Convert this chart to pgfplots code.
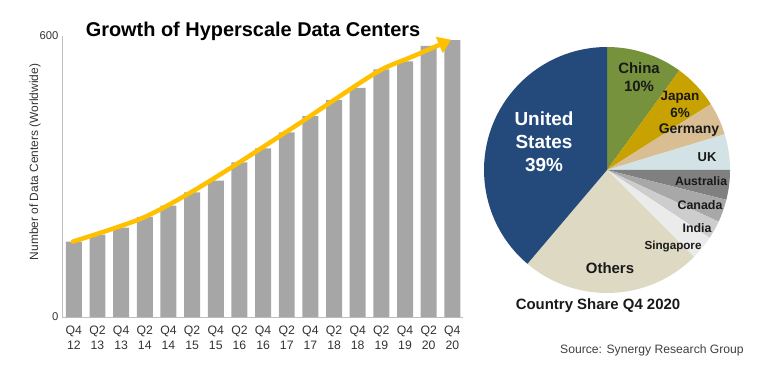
\documentclass[border=0pt]{standalone}
\usepackage{pgfplots}
\pgfplotsset{compat=1.18}
\usepackage{fontspec}
\setmainfont{Liberation Sans}
\usetikzlibrary{arrows.meta}
\definecolor{barc}{HTML}{A6A6A6}
\definecolor{arrc}{HTML}{FFC000}
\definecolor{usc}{HTML}{244A7C}
\definecolor{cnc}{HTML}{76923C}
\definecolor{jpc}{HTML}{C8A200}
\definecolor{dec}{HTML}{D8BE92}
\definecolor{ukc}{HTML}{D2E2E5}
\definecolor{auc}{HTML}{808080}
\definecolor{cac}{HTML}{A8A8A8}
\definecolor{inc}{HTML}{CDCDCD}
\definecolor{sgc}{HTML}{EBEBEB}
\definecolor{otc}{HTML}{DDD9C3}
\newcommand{\fs}[1]{\fontsize{#1}{#1}\selectfont}
% slice from cumulative percent #1 to #2, clockwise from 12 o'clock
\newcommand{\pieslice}[3]{\fill[#3] (axis cs:0,0) -- (axis cs:{cos(90-3.6*#1)},{sin(90-3.6*#1)}) arc[start angle={90-3.6*#1}, end angle={90-3.6*#2}, radius=123bp] -- cycle;}
\begin{document}
\begin{tikzpicture}[x=1bp,y=1bp]
\path[use as bounding box] (0,0) rectangle (781,376);
\begin{axis}[at={(62bp,59bp)}, anchor=south west,
  width=401bp, height=281bp, scale only axis, clip=false,
  xmin=-0.5, xmax=16.45, ymin=0, ymax=600,
  axis x line*=bottom, axis y line*=left,
  axis line style={draw=black!25, line width=0.9pt},
  xtick={0,...,16},
  xticklabels={{Q4\\12},{Q2\\13},{Q4\\13},{Q2\\14},{Q4\\14},{Q2\\15},{Q4\\15},{Q2\\16},{Q4\\16},{Q2\\17},{Q4\\17},{Q2\\18},{Q4\\18},{Q2\\19},{Q4\\19},{Q2\\20},{Q4\\20}},
  ytick={0,600}, major tick length=0pt,
  tick label style={font=\fs{11.3}, text=black!80},
  xticklabel style={align=center, font=\fontsize{12.3}{14.5}\selectfont, yshift=-5.5bp},
  /pgf/number format/assume math mode=true,
]
\addplot[ybar, bar width=0.675, fill=barc, draw=none] coordinates {
(0,161) (1,176) (2,191) (3,214) (4,238) (5,266) (6,291) (7,330) (8,360)
(9,394) (10,429) (11,463) (12,489) (13,529) (14,546) (15,579) (16,591)};
\addplot[arrc, line width=4.5bp, smooth, line cap=round, -{Triangle[length=13bp, width=17bp]}] coordinates {
(-0.04,161) (2.79,209) (4.77,261) (6.71,321) (8.70,386) (9.67,418) (10.93,461) (12.92,526) (14.31,556) (15.95,592)};
\end{axis}
\begin{axis}[at={(607bp,206bp)}, anchor=center, width=246bp, height=246bp,
  scale only axis, hide axis, xmin=-1, xmax=1, ymin=-1, ymax=1, clip=false]
\pieslice{0}{10}{cnc}
\pieslice{10}{16}{jpc}
\pieslice{16}{20.3}{dec}
\pieslice{20.3}{25}{ukc}
\pieslice{25}{28.9}{auc}
\pieslice{28.9}{31.9}{cac}
\pieslice{31.9}{34.3}{inc}
\pieslice{34.3}{37.5}{sgc}
\pieslice{37.5}{61.2}{otc}
\pieslice{61.2}{100}{usc}
\end{axis}
% titles and labels
\node[anchor=base, font=\bfseries\fs{20}] at (253,339.3) {Growth of Hyperscale Data Centers};
\node[rotate=90, font=\fs{12}, text=black!80] at (35,214) {Number of Data Centers (Worldwide)};
\begin{scope}[every node/.style={anchor=base, inner sep=0pt, font=\bfseries}]
\node[text=white, font=\bfseries\fs{19}] at (544,251) {United};
\node[text=white, font=\bfseries\fs{19}] at (544,228) {States};
\node[text=white, font=\bfseries\fs{19}] at (544,205) {39\%};
\node[text=black!90, font=\bfseries\fs{15}] at (639,302.7) {China};
\node[text=black!90, font=\bfseries\fs{15}] at (639,284.3) {10\%};
\node[text=black!90, font=\bfseries\fs{13.5}] at (680,276) {Japan};
\node[text=black!90, font=\bfseries\fs{13.5}] at (680,259) {6\%};
\node[text=black!90, font=\bfseries\fs{14}] at (689,243) {Germany};
\node[text=black!90, font=\bfseries\fs{13}] at (707,214.3) {UK};
\node[text=black!90, font=\bfseries\fs{12.2}] at (701,191) {Australia};
\node[text=black!90, font=\bfseries\fs{12.5}] at (700,166.7) {Canada};
\node[text=black!90, font=\bfseries\fs{12.4}] at (697,143.3) {India};
\node[text=black!90, font=\bfseries\fs{11.7}] at (673,127) {Singapore};
\node[text=black!90, font=\bfseries\fs{15}] at (610,102.7) {Others};
\node[text=black!90, font=\bfseries\fs{15}] at (598,66.7) {Country Share Q4 2020};
\node[text=black!75, font=\fs{12.2}] at (652,22.7) {Source: Synergy Research Group};
\end{scope}
\end{tikzpicture}
\end{document}
